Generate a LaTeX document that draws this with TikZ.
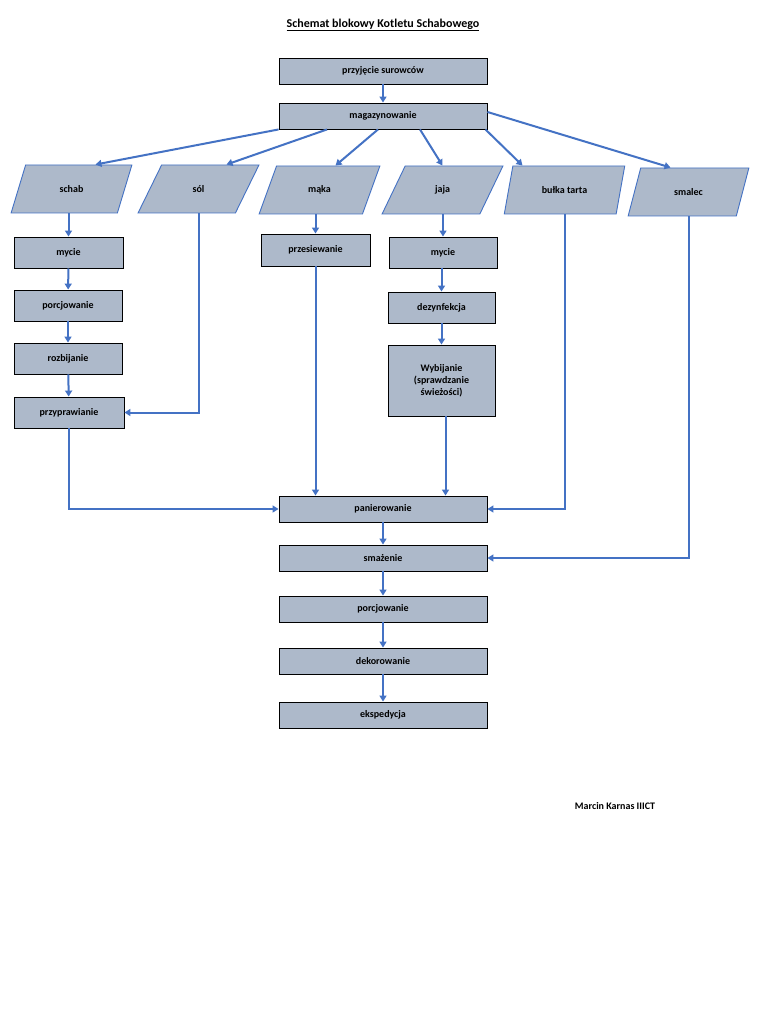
\documentclass[tikz,border=0pt]{standalone}
\usepackage{fontspec}
\setmainfont{Carlito}
\usetikzlibrary{shapes.geometric,arrows.meta}
\definecolor{boxfill}{RGB}{173,185,202}
\definecolor{arrowblue}{RGB}{68,114,196}
\begin{document}
\begin{tikzpicture}[x=1pt,y=-1pt,
  box/.style={draw=black,fill=boxfill,line width=0.9pt,inner sep=0,font=\bfseries\fontsize{10}{12}\selectfont,align=center},
  raw/.style={trapezium,trapezium left angle=62,trapezium right angle=118,draw=arrowblue,fill=boxfill,line width=0.9pt,inner sep=0,minimum width=121,minimum height=48,trapezium stretches=true,font=\bfseries\fontsize{10}{12}\selectfont},
  arr/.style={draw=arrowblue,line width=2pt,-{Triangle[length=6pt,width=7pt]}}]
\useasboundingbox (0,0) rectangle (768,1024);
\fill[white] (0,0) rectangle (768,1024);
\node[font=\bfseries\fontsize{12}{14}\selectfont] (title) at (383,25) {\underline{Schemat blokowy Kotletu Schabowego}};
\node[font=\bfseries\fontsize{10}{12}\selectfont] (author) at (615,806) {Marcin Karnas IIICT};
% main column
\node[box,minimum width=208,minimum height=26] (przyj) at (383,71) {przyjęcie surowców};
\node[box,minimum width=208,minimum height=26] (mag) at (383,116) {magazynowanie};
\node[box,minimum width=208,minimum height=26] (pan) at (383,509) {panierowanie};
\node[box,minimum width=208,minimum height=26] (smaz) at (383,558) {smażenie};
\node[box,minimum width=208,minimum height=26] (porc) at (383,609) {porcjowanie};
\node[box,minimum width=208,minimum height=26] (dek) at (383,661) {dekorowanie};
\node[box,minimum width=208,minimum height=26] (eksp) at (383,715) {ekspedycja};
% raw materials
\node[raw] (schab) at (71.5,189) {schab};
\node[raw] (sol) at (198.5,189) {sól};
\node[raw] (maka) at (319.5,190) {mąka};
\node[raw] (jaja) at (442.5,190) {jaja};
\node[raw] (bulka) at (564.5,190) {bułka tarta};
\node[raw] (smalec) at (688.5,192) {smalec};
% schab column
\node[box,minimum width=109,minimum height=31] (mycie1) at (68.5,252.5) {mycie};
\node[box,minimum width=108,minimum height=31] (porc1) at (68,305.5) {porcjowanie};
\node[box,minimum width=108,minimum height=31] (rozb) at (68,358.5) {rozbijanie};
\node[box,minimum width=110,minimum height=31] (przypr) at (69,412.5) {przyprawianie};
% other columns
\node[box,minimum width=109,minimum height=32] (przes) at (315.5,250) {przesiewanie};
\node[box,minimum width=108,minimum height=31] (mycie2) at (443,252.5) {mycie};
\node[box,minimum width=107,minimum height=31] (dez) at (441.5,307.5) {dezynfekcja};
\node[box,minimum width=107,minimum height=71] (wyb) at (441.5,380.5) {Wybijanie\\(sprawdzanie\\świeżości)};
% connectors
\draw[arr] (przyj) -- (mag);
\draw[arr] (mag.south west) -- ([xshift=24]schab.north);
\draw[arr] ([xshift=-56]mag.south) -- ([xshift=28]sol.north);
\draw[arr] ([xshift=-5]mag.south) -- ([xshift=16]maka.north);
\draw[arr] ([xshift=37]mag.south) -- (jaja.north);
\draw[arr] ([xshift=-2]mag.south east) -- ([xshift=-42]bulka.north);
\draw[arr] ([yshift=4]mag.east) -- ([xshift=-18]smalec.north);
\draw[arr] (schab.south -| mycie1.north) -- (mycie1);
\draw[arr] (mycie1) -- (porc1);
\draw[arr] (porc1) -- (rozb);
\draw[arr] (rozb) -- (przypr);
\draw[arr] (sol.south) |- (przypr.east);
\draw[arr] (przypr.south) |- (pan.west);
\draw[arr] (maka.south -| przes.north) -- (przes);
\draw[arr] (przes.south) -- (przes.south |- pan.north);
\draw[arr] (jaja.south -| mycie2.north) -- (mycie2);
\draw[arr] (mycie2.south -| dez.north) -- (dez);
\draw[arr] (dez) -- (wyb);
\draw[arr] ([xshift=4]wyb.south) -- ([xshift=4]wyb.south |- pan.north);
\draw[arr] (bulka.south) |- (pan.east);
\draw[arr] (smalec.south) |- (smaz.east);
\draw[arr] (pan) -- (smaz);
\draw[arr] (smaz) -- (porc);
\draw[arr] (porc) -- (dek);
\draw[arr] (dek) -- (eksp);
\end{tikzpicture}
\end{document}
